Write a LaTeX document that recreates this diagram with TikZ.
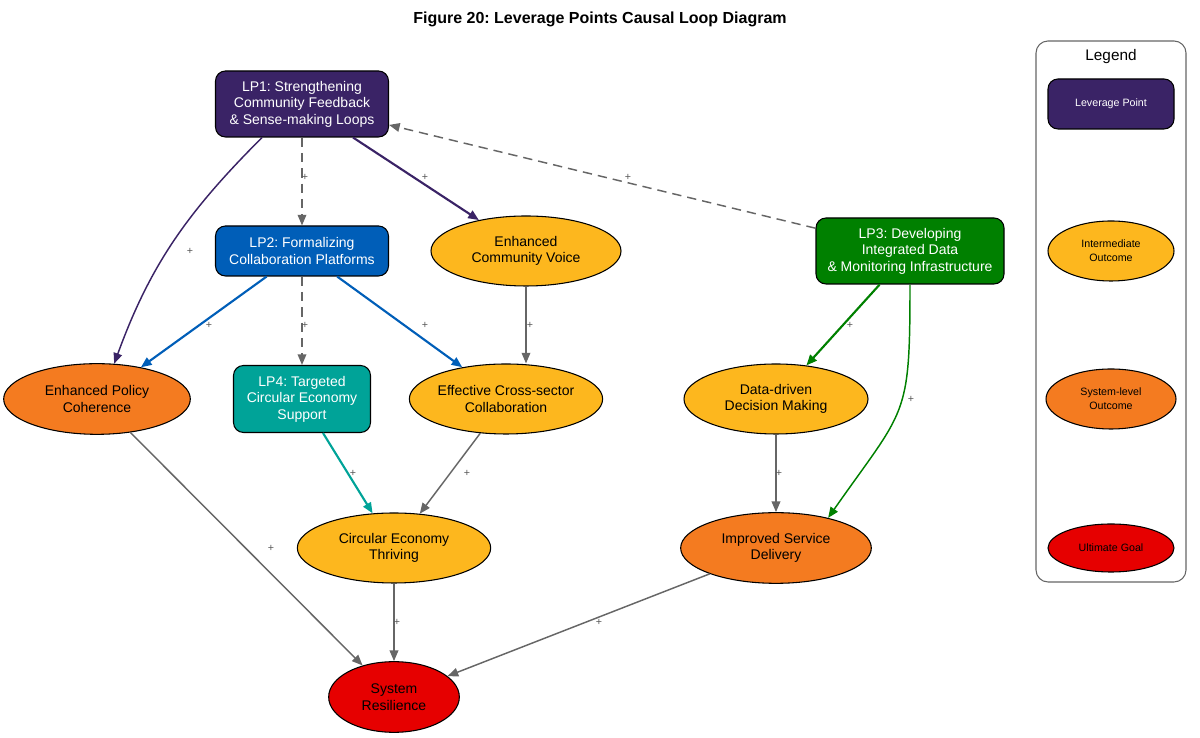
\documentclass[tikz,border=0pt]{standalone}
\usepackage{fontspec}
\setmainfont{Liberation Sans}
\usepackage{xcolor}
\usetikzlibrary{arrows.meta, positioning, shapes, fit, backgrounds}
\frenchspacing

\definecolor{lpone}{HTML}{3A2366}
\definecolor{lptwo}{HTML}{005EB8}
\definecolor{lpthree}{HTML}{008000}
\definecolor{lpfour}{HTML}{00A398}
\definecolor{midout}{HTML}{FDB71E}
\definecolor{sysout}{HTML}{F47B20}
\definecolor{goal}{HTML}{E60000}
\definecolor{edgegray}{HTML}{666666}

\begin{document}
\begin{tikzpicture}[
    x=0.75pt, y=0.75pt,
    lever/.style={draw, rectangle, rounded corners=7.5pt, line width=0.8pt, text=white, align=center, font=\fontsize{10.5}{12.4}\selectfont},
    outcome/.style={draw, ellipse, inner sep=0pt, line width=0.8pt, align=center, font=\fontsize{10.5}{12.4}\selectfont},
    key/.style={font=\fontsize{8}{10.5}\selectfont},
    link/.style={-{Triangle[length=8pt, width=6.5pt]}, line width=1.1pt, draw=edgegray},
    strong/.style={link, line width=1.6pt},
    dashlink/.style={link, dash pattern=on 7pt off 4.5pt},
    lbl/.style={font=\fontsize{8}{9}\selectfont, text=edgegray!85!black, inner sep=0pt}
]
    \useasboundingbox (0,0) rectangle (1200,738);

    \node[font=\bfseries\fontsize{12}{14}\selectfont] (title) at (600,719) {Figure 20: Leverage Points Causal Loop Diagram};

    \node[lever, fill=lpone, minimum width=129.75pt, minimum height=49.5pt] (lp1) at (302,634) {LP1: Strengthening\\Community Feedback\\\& Sense-making Loops};
    \node[lever, fill=lptwo, minimum width=129.75pt, minimum height=37.5pt] (lp2) at (302,487) {LP2: Formalizing\\Collaboration Platforms};
    \node[outcome, fill=midout, minimum width=142.5pt, minimum height=52.5pt] (ecv) at (526,487) {Enhanced\\Community Voice};
    \node[lever, fill=lpthree, minimum width=141pt, minimum height=49.5pt] (lp3) at (910,487) {LP3: Developing\\Integrated Data\\\& Monitoring Infrastructure};
    \node[outcome, fill=sysout, minimum width=140pt, minimum height=53pt] (epc) at (97,339) {Enhanced Policy\\Coherence};
    \node[lever, fill=lpfour, minimum width=102.75pt, minimum height=50.25pt] (lp4) at (302,339) {LP4: Targeted\\Circular Economy\\Support};
    \node[outcome, fill=midout, minimum width=141pt, minimum height=52.5pt] (ecc) at (506,339) {Effective Cross-sector\\Collaboration};
    \node[outcome, fill=midout, minimum width=138pt, minimum height=52.5pt] (ddm) at (776,339) {Data-driven\\Decision Making};
    \node[outcome, fill=midout, minimum width=145pt, minimum height=52.5pt] (cet) at (394,190) {Circular Economy\\Thriving};
    \node[outcome, fill=sysout, minimum width=143pt, minimum height=53pt] (isd) at (776,190) {Improved Service\\Delivery};
    \node[outcome, fill=goal, minimum width=98pt, minimum height=53pt] (sr) at (394,41) {System\\Resilience};

    \node[draw=edgegray, rounded corners=9pt, line width=0.8pt, minimum width=112.5pt, minimum height=405.75pt] (legend) at (1111,426.5) {};
    \node[font=\fontsize{11.5}{13}\selectfont] (legtitle) at (1111,681) {Legend};
    \node[lever, key, fill=lpone, minimum width=94.5pt, minimum height=37.5pt] (keylp) at (1111,634) {Leverage Point};
    \node[outcome, key, fill=midout, minimum width=94.5pt, minimum height=45pt] (keymid) at (1111,487) {Intermediate\\Outcome};
    \node[outcome, key, fill=sysout, minimum width=97.5pt, minimum height=45pt] (keysys) at (1111,339) {System-level\\Outcome};
    \node[outcome, key, fill=goal, minimum width=94.5pt, minimum height=36pt] (keygoal) at (1111,190) {Ultimate Goal};

    \draw[link, draw=lpone] (lp1.220) to[out=225, in=70] (epc.64) node[lbl] at (190,487) {+};
    \draw[dashlink] (lp1) -- (lp2) node[lbl] at (305,561) {+};
    \draw[strong, draw=lpone] (lp1) -- (ecv) node[lbl] at (425,561) {+};
    \draw[dashlink] (lp3) -- (lp1) node[lbl] at (628,561) {+};
    \draw[strong, draw=lptwo] (lp2) -- (epc) node[lbl] at (209,413) {+};
    \draw[dashlink] (lp2) -- (lp4) node[lbl] at (305,413) {+};
    \draw[strong, draw=lptwo] (lp2) -- (ecc) node[lbl] at (425,413) {+};
    \draw[link] (ecv) -- (ecv |- ecc.north) node[lbl] at (530,413) {+};
    \draw[strong, draw=lpthree] (lp3) -- (ddm) node[lbl] at (850,413) {+};
    \draw[link, draw=lpthree] (lp3.south) to[out=270, in=55, looseness=1.4] (isd.30) node[lbl] at (911,339) {+};
    \draw[link] (epc) -- (sr) node[lbl] at (271,190) {+};
    \draw[strong, draw=lpfour] (lp4) -- (cet) node[lbl] at (353,265) {+};
    \draw[link] (ecc) -- (cet) node[lbl] at (467,265) {+};
    \draw[link] (ddm) -- (isd) node[lbl] at (779,265) {+};
    \draw[link] (cet) -- (sr) node[lbl] at (397,116) {+};
    \draw[link] (isd) -- (sr) node[lbl] at (599,116) {+};
\end{tikzpicture}
\end{document}
